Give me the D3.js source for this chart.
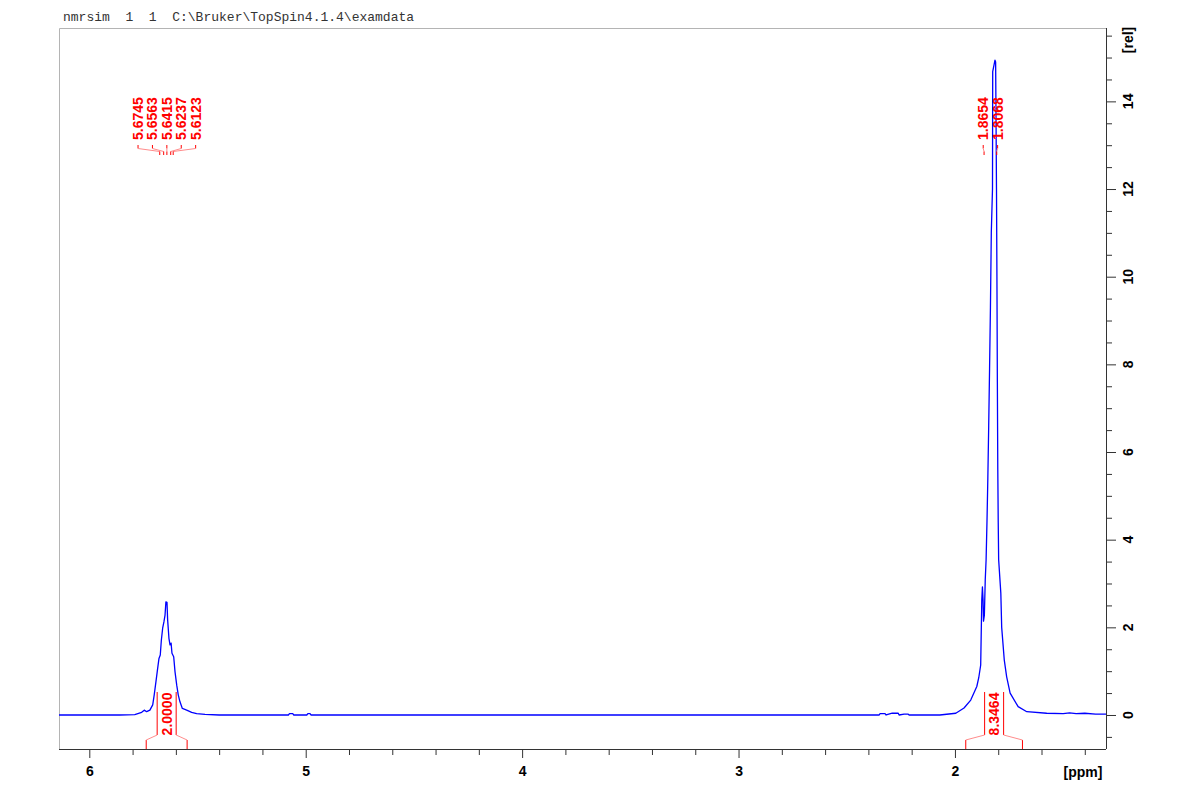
<!DOCTYPE html>
<html>
<head>
<meta charset="utf-8">
<script src="https://cdn.jsdelivr.net/npm/d3@7"></script>
<style>
  html, body { margin: 0; padding: 0; background: #fff; }
  svg { display: block; }
</style>
</head>
<body>
<svg id="chart" width="1187" height="786"></svg>
<script>
// ---------- DATA ----------
const headerText = "nmrsim  1  1  C:\\Bruker\\TopSpin4.1.4\\examdata";
const xTicks = [6, 5, 4, 3, 2];
const yTicks = [0, 2, 4, 6, 8, 10, 12, 14];
const xUnit = "[ppm]";
const yUnit = "[rel]";

// spectrum points (ppm, relative intensity)
const specPpm = [
  6.14, 5.86, 5.79, 5.758, 5.746, 5.735, 5.720, 5.707, 5.700, 5.692, 5.684, 5.678, 5.672,
  5.667, 5.661, 5.655, 5.650, 5.646, 5.641, 5.638, 5.632, 5.627, 5.622, 5.618, 5.610,
  5.604, 5.596, 5.589, 5.581, 5.570, 5.550, 5.527, 5.504, 5.465, 5.40,
  5.08, 5.075, 5.06, 5.055, 4.995, 4.99, 4.98, 4.975,
  2.35, 2.346, 2.323, 2.318, 2.29, 2.262, 2.258, 2.235, 2.217, 2.212,
  2.07, 1.996, 1.958, 1.927, 1.899, 1.890, 1.881, 1.876, 1.873, 1.870, 1.868, 1.864,
  1.860, 1.856, 1.852, 1.848, 1.844, 1.840, 1.836, 1.832, 1.8265, 1.8255, 1.815, 1.812,
  1.810, 1.808, 1.806, 1.804, 1.802, 1.800, 1.798, 1.788, 1.784, 1.772, 1.761, 1.745,
  1.708, 1.668, 1.576, 1.50, 1.47, 1.44, 1.40, 1.35, 1.302
];
const specInt = [
  0, 0, 0.01, 0.06, 0.11, 0.075, 0.11, 0.23, 0.46, 0.76, 1.07, 1.29, 1.37,
  1.71, 1.98, 2.13, 2.28, 2.58, 2.57, 2.17, 1.75, 1.60, 1.64, 1.41, 1.33,
  0.99, 0.68, 0.46, 0.30, 0.15, 0.11, 0.06, 0.03, 0.016, 0,
  0, 0.03, 0.03, 0, 0, 0.03, 0.03, 0,
  0, 0.03, 0.03, 0, 0.04, 0.04, 0, 0.02, 0.02, 0,
  0, 0.04, 0.16, 0.34, 0.65, 0.85, 1.14, 2.62, 2.92, 2.62, 2.14, 2.28,
  3.08, 3.54, 4.4, 5.4, 6.6, 7.9, 9.3, 11.0, 12.0, 14.68, 14.94, 14.9,
  13.5, 12.0, 10.0, 7.6, 5.6, 4.4, 3.54, 2.78, 2.0, 1.25, 0.87, 0.50,
  0.19, 0.075, 0.04, 0.03, 0.05, 0.03, 0.04, 0.02, 0.02
];

// peak picking labels
const peakPpm = [5.6745, 5.6563, 5.6415, 5.6237, 5.6123, 1.8654, 1.8068];

// integrals
const integralFrom = [5.737, 1.950];
const integralTo = [5.548, 1.688];
const integralValue = ["2.0000", "8.3464"];

// ---------- LAYOUT ----------
const svg = d3.select("#chart");
const L = 59, R = 1106, T = 28, B = 749;
const x = d3.scaleLinear().domain([6.14, 1.302]).range([L, R]);
const y = d3.scaleLinear().domain([-0.776, 15.674]).range([B, T]);
const fontBold = "'Liberation Sans', Arial, sans-serif";
const red = "#ff0000";
const pink = "#ff8c8c";

// header
svg.append("text")
  .attr("x", 63).attr("y", 21)
  .attr("font-family", "'Liberation Mono', 'Courier New', monospace")
  .attr("font-size", 13).attr("fill", "#333")
  .attr("xml:space", "preserve")
  .style("white-space", "pre")
  .text(headerText);

// frame (top & left light)
svg.append("path")
  .attr("d", `M${L},${B} V${T + 0.5} H${R}`)
  .attr("fill", "none").attr("stroke", "#b4b4b4").attr("stroke-width", 1)
  .attr("transform", "translate(0.5,0)");

// clip
svg.append("defs").append("clipPath").attr("id", "clip")
  .append("rect").attr("x", L).attr("y", T).attr("width", R - L).attr("height", B - T);

// spectrum
const pts = specPpm.map((p, i) => [p, specInt[i]]);
svg.append("path")
  .datum(pts)
  .attr("clip-path", "url(#clip)")
  .attr("fill", "none").attr("stroke", "#0000ff").attr("stroke-width", 1.3)
  .attr("stroke-linejoin", "round")
  .attr("d", d3.line().x(d => x(d[0])).y(d => y(d[1])));

// bottom axis
const xMinor = d3.range(62, 13, -2).map(v => v / 10).filter(v => v <= 6.14 && v >= 1.302);
const xAxisMajor = d3.axisBottom(x).tickValues(xTicks).tickSize(9).tickFormat(d3.format("d")).tickSizeOuter(0);
const xAxisMinor = d3.axisBottom(x).tickValues(xMinor.filter(v => !xTicks.includes(v))).tickSize(6).tickFormat("").tickSizeOuter(0);
const gxm = svg.append("g").attr("transform", `translate(0,${B})`).call(xAxisMinor);
const gx = svg.append("g").attr("transform", `translate(0,${B})`).call(xAxisMajor);
[gx, gxm].forEach(g => {
  g.select(".domain").attr("stroke", "#333").attr("d", `M${L},0.5H${R}`);
  g.selectAll(".tick line").attr("stroke", "#333");
});
gx.selectAll(".tick text")
  .attr("font-family", fontBold).attr("font-weight", "bold").attr("font-size", 14)
  .attr("fill", "#000").attr("y", 17).attr("dy", "0.71em");
svg.append("text")
  .attr("x", 1083).attr("y", 777).attr("text-anchor", "middle")
  .attr("font-family", fontBold).attr("font-weight", "bold").attr("font-size", 14)
  .text(xUnit);

// right axis
const yMinor = d3.range(-1, 32).map(v => v / 2).filter(v => v >= -0.776 && v <= 15.674 && !yTicks.includes(v));
const yAxisMajor = d3.axisRight(y).tickValues(yTicks).tickSize(10).tickFormat("").tickSizeOuter(0);
const yAxisMinor = d3.axisRight(y).tickValues(yMinor).tickSize(6).tickFormat("").tickSizeOuter(0);
const gym = svg.append("g").attr("transform", `translate(${R},0)`).call(yAxisMinor);
const gy = svg.append("g").attr("transform", `translate(${R},0)`).call(yAxisMajor);
[gy, gym].forEach(g => {
  g.select(".domain").attr("stroke", "#333").attr("d", `M0.5,${T}V${B}`);
  g.selectAll(".tick line").attr("stroke", "#333");
});
svg.append("g").selectAll("text").data(yTicks).join("text")
  .attr("transform", d => `translate(1128,${y(d)}) rotate(-90)`)
  .attr("text-anchor", "middle").attr("dy", "0.35em")
  .attr("font-family", fontBold).attr("font-weight", "bold").attr("font-size", 14)
  .text(d => d);
svg.append("text")
  .attr("transform", `translate(1128,40) rotate(-90)`)
  .attr("text-anchor", "middle").attr("dy", "0.35em")
  .attr("font-family", fontBold).attr("font-weight", "bold").attr("font-size", 14)
  .text(yUnit);

// peak labels with spreading
const minSp = 14.4;
const peaks = peakPpm.map(p => ({ p, px: x(p) })).sort((a, b) => a.px - b.px);
const clusters = [];
peaks.forEach(pk => {
  const last = clusters[clusters.length - 1];
  if (last && pk.px - last[last.length - 1].px < minSp) last.push(pk);
  else clusters.push([pk]);
});
clusters.forEach(c => {
  const c0 = d3.mean(c, d => d.px);
  c.forEach((d, i) => d.lx = c0 + (i - (c.length - 1) / 2) * minSp);
});
const gp = svg.append("g");
peaks.forEach(d => {
  gp.append("text")
    .attr("transform", `translate(${d.lx},140) rotate(-90)`)
    .attr("dy", "0.35em")
    .attr("font-family", fontBold).attr("font-weight", "bold").attr("font-size", 14)
    .attr("fill", red)
    .text(d.p.toFixed(4));
  gp.append("line").attr("x1", d.lx).attr("x2", d.lx).attr("y1", 145).attr("y2", 148.5)
    .attr("stroke", red).attr("stroke-width", 1);
  gp.append("line").attr("x1", d.lx).attr("x2", d.px).attr("y1", 148.5).attr("y2", 151.5)
    .attr("stroke", pink).attr("stroke-width", 1);
  gp.append("line").attr("x1", d.px).attr("x2", d.px).attr("y1", 151.5).attr("y2", 155)
    .attr("stroke", red).attr("stroke-width", 1);
});

// integrals
const gi = svg.append("g");
integralFrom.forEach((f, i) => {
  const x1 = x(f), x2 = x(integralTo[i]);
  const xc = (x1 + x2) / 2;
  const hw = 9.5;
  gi.append("path")
    .attr("d", `M${xc - hw},692V735 M${xc + hw},692V735 M${x1},740V${B} M${x2},740V${B}`)
    .attr("stroke", red).attr("fill", "none").attr("stroke-width", 1);
  gi.append("path")
    .attr("d", `M${xc - hw},735L${x1},740 M${xc + hw},735L${x2},740`)
    .attr("stroke", pink).attr("fill", "none").attr("stroke-width", 1);
  gi.append("text")
    .attr("transform", `translate(${xc},714) rotate(-90)`)
    .attr("text-anchor", "middle").attr("dy", "0.35em")
    .attr("font-family", fontBold).attr("font-weight", "bold").attr("font-size", 14)
    .attr("fill", red)
    .text(integralValue[i]);
});
</script>
</body>
</html>
